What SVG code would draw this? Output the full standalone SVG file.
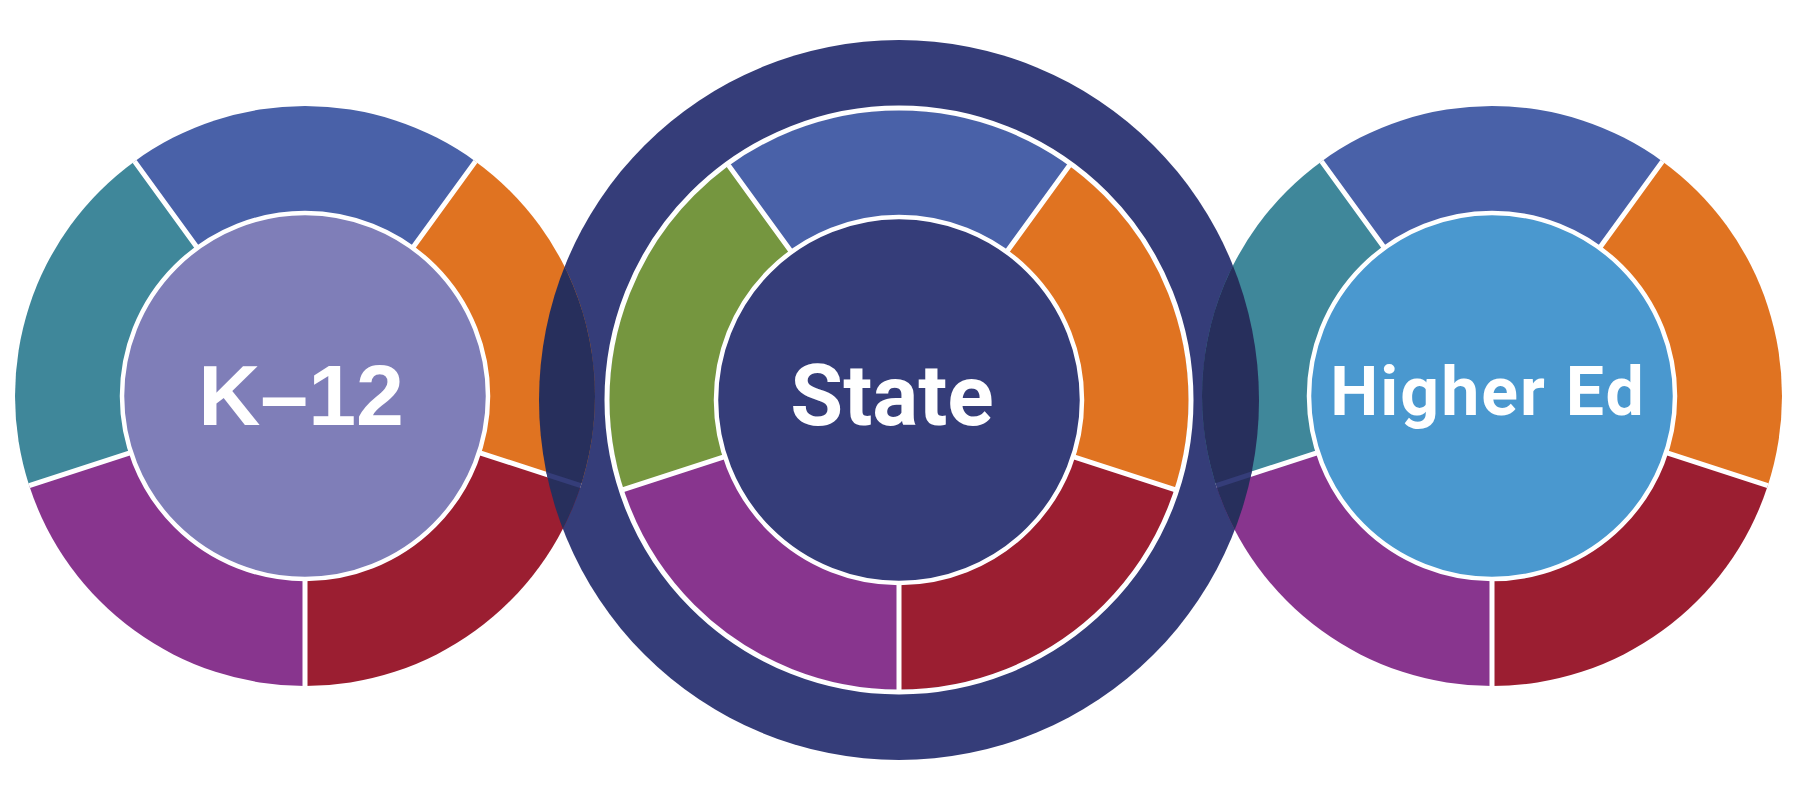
<svg xmlns="http://www.w3.org/2000/svg" xmlns:xlink="http://www.w3.org/1999/xlink" width="1801" height="801" viewBox="0 0 1801 801">
<style>
.blue{fill:#4961A8}.orange{fill:#E07321}.red{fill:#9B1E31}.purple{fill:#88358E}.teal{fill:#3F879A}.green{fill:#75963F}
.div{stroke:#fff;stroke-width:5;fill:none}
.inner{stroke:#fff;stroke-width:4.5}
.lbl{fill:#fff;text-anchor:middle;font-weight:700}
.hum{font-family:Roboto, Lato, 'Open Sans', sans-serif}
.lens{fill:#272F5C}
</style>
<defs>
<path id="w-top" d="M0,0 L-170.458,-234.615 A290,290 0 0 1 170.458,-234.615 Z"/>
<path id="w-ur" d="M0,0 L170.458,-234.615 A290,290 0 0 1 275.807,89.615 Z"/>
<path id="w-lr" d="M0,0 L275.807,89.615 A290,290 0 0 1 0,290 Z"/>
<path id="w-ll" d="M0,0 L0,290 A290,290 0 0 1 -275.807,89.615 Z"/>
<path id="w-ul" d="M0,0 L-275.807,89.615 A290,290 0 0 1 -170.458,-234.615 Z"/>
<path id="dividers" class="div" d="M0,0 L275.807,89.615 M0,0 L0,290 M0,0 L-275.807,89.615 M0,0 L-170.458,-234.615 M0,0 L170.458,-234.615"/>
<clipPath id="clip-k12"><circle cx="305" cy="396" r="290"/></clipPath>
<clipPath id="clip-he"><circle cx="1492" cy="396" r="290"/></clipPath>
<clipPath id="clip-state"><circle cx="899" cy="400" r="360"/></clipPath>
</defs>

<g id="state">
<circle cx="899" cy="400" r="360" fill="#353D79"/>
<g transform="translate(899,400)">
<use href="#w-top" class="blue"/><use href="#w-ur" class="orange"/><use href="#w-lr" class="red"/><use href="#w-ll" class="purple"/><use href="#w-ul" class="green"/>
<use href="#dividers"/>
<circle r="292" fill="none" stroke="#fff" stroke-width="5"/>
<circle r="183" fill="#353D79" class="inner"/>
</g>
<text class="lbl hum" x="892" y="425" font-size="86">State</text>
</g>

<g id="k12">
<g transform="translate(305,396)">
<use href="#w-top" class="blue"/><use href="#w-ur" class="orange"/><use href="#w-lr" class="red"/><use href="#w-ll" class="purple"/><use href="#w-ul" class="teal"/>
<use href="#dividers"/>
<circle r="183" fill="#7F7EB8" class="inner"/>
</g>
<text class="lbl" x="301" y="425" font-family="'Liberation Sans', Arial, sans-serif" font-size="86">K–12</text>
</g>

<g id="higher-ed">
<g transform="translate(1492,396)">
<use href="#w-top" class="blue"/><use href="#w-ur" class="orange"/><use href="#w-lr" class="red"/><use href="#w-ll" class="purple"/><use href="#w-ul" class="teal"/>
<use href="#dividers"/>
<circle r="183" fill="#4A98CF" class="inner"/>
</g>
<text class="lbl hum" x="1488" y="415" font-size="68" letter-spacing="2">Higher Ed</text>
</g>

<g id="overlaps">
<g clip-path="url(#clip-k12)">
<g clip-path="url(#clip-state)">
<rect class="lens" x="500" y="100" width="150" height="600"/>
<line x1="305" y1="396" x2="580.807" y2="485.615" stroke="#353D79" stroke-width="5"/>
</g>
</g>
<g clip-path="url(#clip-he)">
<g clip-path="url(#clip-state)">
<rect class="lens" x="1150" y="100" width="150" height="600"/>
<line x1="1492" y1="396" x2="1216.193" y2="485.615" stroke="#353D79" stroke-width="5"/>
</g>
</g>
</g>
</svg>
